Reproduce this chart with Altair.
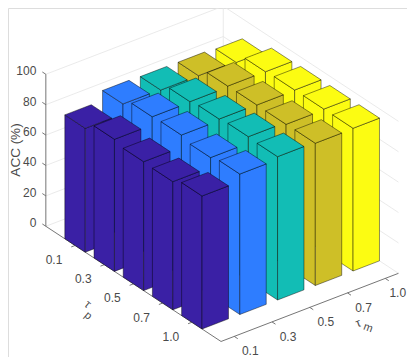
import altair as alt

# ACC (%) by tau_p (rows) and tau_m (columns)
tau_m_labels = ["0.1", "0.3", "0.5", "0.7", "1.0"]
tau_p_labels = ["0.1", "0.3", "0.5", "0.7", "1.0"]
acc_m01 = [81.5, 86.9, 84.8, 84.3, 87.5]
acc_m03 = [88.0, 92.2, 92.8, 90.6, 92.4]
acc_m05 = [87.6, 92.6, 93.8, 94.8, 94.3]
acc_m07 = [87.5, 93.3, 93.5, 93.4, 93.6]
acc_m10 = [86.7, 93.2, 93.8, 93.9, 93.9]
series = [acc_m01, acc_m03, acc_m05, acc_m07, acc_m10]
colors = ["#3A20A5", "#2E7DFF", "#12BDB5", "#CEBF27", "#FCFC12"]
z_ticks = [0, 20, 40, 60, 80, 100]

W, H = 399, 349
ULO, UHI, VLO, VHI = 0.65, 5.35, 0.0, 6.0
BAR = 0.7


def proj(u, v, z):
    return (21.3 + 37.75 * u + 29.2 * v - 8,
            235.7 - 14.5 * u + 19.2 * v - 1.52 * z - 8)


def poly(rows, key, pts, color=None):
    for i, p in enumerate(pts):
        x, y = proj(*p)
        rows.append({"k": key, "i": i, "x": x, "y": y, "c": color})


X = alt.X("x:Q", scale=alt.Scale(domain=[0, W], nice=False, zero=False), axis=None)
Y = alt.Y("y:Q", scale=alt.Scale(domain=[H, 0], nice=False, zero=False), axis=None)


def lines(rows, color, width):
    return alt.Chart(alt.Data(values=rows)).mark_line(
        color=color, strokeWidth=width
    ).encode(x=X, y=Y, detail="k:N", order="i:Q")


def labels(rows, dx, dy, size=12, align="center", angle=0):
    return alt.Chart(alt.Data(values=rows)).mark_text(
        dx=dx, dy=dy, fontSize=size, align=align, baseline="middle", angle=angle,
        font="Liberation Sans", color="#4A4A4A",
    ).encode(x=X, y=Y, text="t:N")


# back walls
grid = []
for z in z_ticks:
    poly(grid, f"a{z}", [(ULO, VLO, z), (UHI, VLO, z), (UHI, VHI, z)])
poly(grid, "back", [(UHI, VLO, 0), (UHI, VLO, 100)])

# axes and tick marks
axes = []
poly(axes, "ax1", [(ULO, VLO, 100), (ULO, VLO, 0), (ULO, VHI, 0), (UHI, VHI, 0)])
for z in z_ticks:
    poly(axes, f"tz{z}", [(ULO, VLO, z), (ULO, VLO - 0.12, z)])
for n in range(1, 6):
    poly(axes, f"tu{n}", [(n, VHI, 0), (n, VHI + 0.12, 0)])
    poly(axes, f"tv{n}", [(ULO, n, 0), (ULO - 0.1, n, 0)])

# bars, painted from back to front
faces = []
for u in range(5, 0, -1):
    for v in range(1, 6):
        z = series[u - 1][v - 1]
        c = colors[u - 1]
        a, b = u - BAR / 2, u + BAR / 2
        p, q = v - BAR / 2, v + BAR / 2
        poly(faces, f"{u}{v}l", [(a, p, 0), (a, q, 0), (a, q, z), (a, p, z), (a, p, 0)], c)
        poly(faces, f"{u}{v}r", [(a, q, 0), (b, q, 0), (b, q, z), (a, q, z), (a, q, 0)], c)
        poly(faces, f"{u}{v}t", [(a, p, z), (a, q, z), (b, q, z), (b, p, z), (a, p, z)], c)

bars = alt.Chart(alt.Data(values=faces)).mark_line(
    stroke="#000000", strokeWidth=0.8, strokeOpacity=0.55, strokeJoin="round"
).encode(
    x=X, y=Y, detail="k:N", order="i:Q",
    fill=alt.Fill("c:N", scale=None),
)


def pt(u, v, z, t):
    x, y = proj(u, v, z)
    return {"x": x, "y": y, "t": t}


z_text = [pt(ULO, VLO, z, str(z)) for z in z_ticks]
u_text = [pt(n + 1, VHI, 0, s) for n, s in enumerate(tau_m_labels)]
v_text = [pt(ULO, n + 1, 0, s) for n, s in enumerate(tau_p_labels)]

title_rows = [{"x": 15.5 - 8, "y": 150 - 8, "t": "ACC (%)"}]

chart = alt.layer(
    lines(grid, "#E4E4E4", 0.8),
    lines(axes, "#666666", 0.9),
    bars,
    labels(z_text, -9.5, -3, align="right"),
    labels(u_text[:-1], 16, 14.6),
    labels(u_text[-1:], 12.5, 14.6),
    labels(v_text, -21, 14.5),
    labels(title_rows, 0, 0, size=13.5, angle=270),
    labels([{"x": 88 - 8, "y": 304 - 8, "t": "τ"}], 0, 0, size=12, angle=40),
    labels([{"x": 88 - 8, "y": 316 - 8, "t": "p"}], 0, 0, size=11, angle=40),
    labels([{"x": 358 - 8, "y": 323 - 8, "t": "τ"}], 0, 0, size=12, angle=340),
    labels([{"x": 368 - 8, "y": 328 - 8, "t": "m"}], 0, 0, size=11, angle=20),
).properties(
    width=W, height=H, padding=0,
    autosize=alt.AutoSizeParams(type="none"),
).configure_view(stroke=None).configure(background="white")

chart.save("out.html", embed_options={"renderer": "svg", "actions": False})
